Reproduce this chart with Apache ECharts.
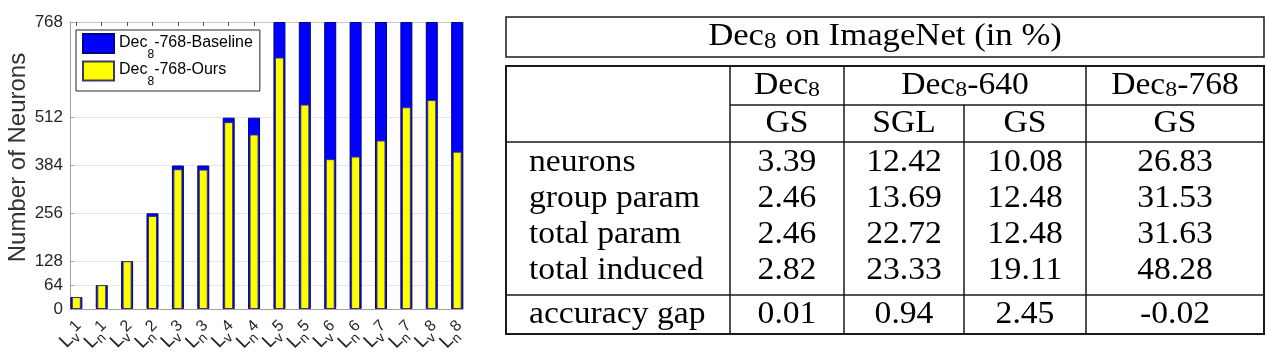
<!DOCTYPE html>
<html>
<head>
<meta charset="utf-8">
<script src="https://cdn.jsdelivr.net/npm/echarts@6/dist/echarts.min.js"></script>
<style>
  html, body { margin: 0; padding: 0; background: #fff; }
  #main { width: 1266px; height: 360px; }
</style>
</head>
<body>
<div id="main"></div>
<script>
// bar chart data: layer L_kind^id
const layerIds = ['1', '1', '2', '2', '3', '3', '4', '4', '5', '5', '6', '6', '7', '7', '8', '8'];
const layerKinds = ['v', 'n', 'v', 'n', 'v', 'n', 'v', 'n', 'v', 'n', 'v', 'n', 'v', 'n', 'v', 'n'];
const baseline = [32, 64, 128, 256, 384, 384, 512, 512, 768, 768, 768, 768, 768, 768, 768, 768];
const ours = [32, 64, 128, 249, 374, 373, 500, 467, 673, 547, 401, 408, 451, 540, 559, 421];
const yTicks = [0, 64, 128, 256, 384, 512, 768];

// table data
const tableTitle = '{t|Dec}{s|8}{t| on ImageNet (in %)}';
const groupHeaders = ['{t|Dec}{s|8}', '{t|Dec}{s|8}{t|-640}', '{t|Dec}{s|8}{t|-768}'];
const methodHeaders = ['GS', 'SGL', 'GS', 'GS'];
const rowLabels = ['neurons', 'group param', 'total param', 'total induced', 'accuracy gap'];
const dec8GS = [3.39, 2.46, 2.46, 2.82, 0.01];
const dec640SGL = [12.42, 13.69, 22.72, 23.33, 0.94];
const dec640GS = [10.08, 12.48, 12.48, 19.11, 2.45];
const dec768GS = [26.83, 31.53, 31.63, 48.28, -0.02];

const positions = layerIds.map((d, i) => i + 1);
const sans = 'Liberation Sans';
const serif = 'Liberation Serif';
const xMin = 0.75, xMax = 16.23;
const labelShift = 0.2; // labels sit a little right of the bar centre

// ---- table layout ----
const colX = [506, 730, 844, 964, 1086, 1264];
const tTop = 66, tBottom = 334;
const lineColor = '#1a1a1a';

function serifRich(size) {
  return {
    t: { fontFamily: serif, fontSize: size, fill: '#000' },
    s: { fontFamily: serif, fontSize: Math.round(size * 0.72), fill: '#000', padding: [9, 0, 0, 0] }
  };
}
function line(x1, y1, x2, y2, w) {
  return {
    type: 'line',
    shape: { x1: x1, y1: y1, x2: x2, y2: y2 },
    style: { stroke: lineColor, lineWidth: w || 1.5 }
  };
}
function cell(x, y, text, opt) {
  opt = opt || {};
  const size = opt.size || 31;
  return {
    type: 'text',
    x: x,
    y: y,
    scaleX: 1.085,
    style: {
      text: text,
      x: 0,
      y: 0,
      rich: serifRich(size),
      fontFamily: serif,
      fontSize: size,
      fill: '#000',
      align: opt.align || 'center',
      verticalAlign: 'middle',
      textAlign: opt.align || 'center',
      textVerticalAlign: 'middle'
    }
  };
}

const graphics = [];
// title box
graphics.push({ type: 'rect', shape: { x: 506, y: 17, width: 758, height: 40 },
  style: { fill: 'none', stroke: lineColor, lineWidth: 1.5 } });
graphics.push(cell(885, 37, tableTitle, { size: 32 }));
// table frame
graphics.push({ type: 'rect', shape: { x: 506, y: tTop, width: 758, height: tBottom - tTop },
  style: { fill: 'none', stroke: lineColor, lineWidth: 2 } });
graphics.push(line(colX[1], 105, colX[5], 105));
graphics.push(line(colX[0], 142, colX[5], 142));
graphics.push(line(colX[0], 295, colX[5], 295));
graphics.push(line(colX[1], tTop, colX[1], tBottom));
graphics.push(line(colX[2], tTop, colX[2], tBottom));
graphics.push(line(colX[3], 105, colX[3], tBottom));
graphics.push(line(colX[4], tTop, colX[4], tBottom));
// headers
graphics.push(cell((colX[1] + colX[2]) / 2, 86, groupHeaders[0]));
graphics.push(cell((colX[2] + colX[4]) / 2, 86, groupHeaders[1]));
graphics.push(cell((colX[4] + colX[5]) / 2, 86, groupHeaders[2]));
methodHeaders.forEach((h, j) => {
  graphics.push(cell((colX[j + 1] + colX[j + 2]) / 2, 124, h));
});
// body rows
const rowY = [162.5, 198.5, 234.5, 270.5, 315];
const cols = [dec8GS, dec640SGL, dec640GS, dec768GS];
rowLabels.forEach((lab, r) => {
  graphics.push(cell(529, rowY[r], lab, { align: 'left' }));
  cols.forEach((col, j) => {
    graphics.push(cell((colX[j + 1] + colX[j + 2]) / 2, rowY[r], col[r].toFixed(2)));
  });
});

const myChart = echarts.init(document.getElementById('main'));
const option = {
  animation: false,
  backgroundColor: '#fff',
  grid: { left: 70, top: 22, width: 393, height: 287 },
  legend: {
    orient: 'vertical',
    left: 76,
    top: 30,
    backgroundColor: '#fff',
    borderColor: '#262626',
    borderWidth: 1,
    padding: [3, 7, 3, 6],
    itemGap: 0,
    itemWidth: 31,
    itemHeight: 19,
    icon: 'rect',
    selectedMode: false,
    formatter: function (name) {
      return '{t|Dec}{s|8}{t|' + name.replace('Dec8', '') + '}';
    },
    textStyle: {
      rich: {
        t: { fontFamily: sans, fontSize: 16, color: '#000', lineHeight: 18, verticalAlign: 'top' },
        s: { fontFamily: sans, fontSize: 12, color: '#000', lineHeight: 12, padding: [14, 0, 0, 0], verticalAlign: 'top' }
      }
    }
  },
  xAxis: [
    {
      type: 'value',
      min: xMin,
      max: xMax,
      position: 'bottom',
      axisLine: { show: true, onZero: false, lineStyle: { color: '#a0a0a0' } },
      axisTick: { show: false },
      axisLabel: { show: false },
      splitLine: { show: false }
    },
    {
      type: 'value',
      min: xMin,
      max: xMax,
      position: 'top',
      axisLine: { show: true, onZero: false, lineStyle: { color: '#c8c8c8' } },
      axisTick: { show: true, inside: true, length: 4, customValues: positions, lineStyle: { color: '#555' } },
      axisLabel: { show: false },
      splitLine: { show: false }
    },
    {
      // label-only axis, shifted slightly so the rotated labels sit like the original
      type: 'value',
      min: xMin - labelShift,
      max: xMax - labelShift,
      position: 'bottom',
      axisLine: { show: false },
      axisTick: { show: false },
      splitLine: { show: false },
      axisLabel: {
        customValues: [xMin - labelShift].concat(positions, [xMax - labelShift]),
        rotate: 45,
        margin: 17,
        color: '#262626',
        fontFamily: sans,
        formatter: function (v) {
          if (!Number.isInteger(v)) return '';
          const i = v - 1;
          return '{l|L}{b|' + layerKinds[i] + '}{p|' + layerIds[i] + '}';
        },
        rich: {
          l: { fontFamily: sans, fontSize: 19, color: '#262626', lineHeight: 24 },
          b: { fontFamily: sans, fontSize: 14, color: '#262626', lineHeight: 10, verticalAlign: 'bottom' },
          p: { fontFamily: sans, fontSize: 16, color: '#262626', lineHeight: 18, verticalAlign: 'top' }
        }
      }
    }
  ],
  yAxis: [
    {
      type: 'value',
      min: 0,
      max: 768,
      name: 'Number of Neurons',
      nameLocation: 'middle',
      nameGap: 40,
      nameTextStyle: { fontFamily: sans, fontSize: 24, color: '#333', padding: [0, 0, 0, 16] },
      axisLine: { show: true, lineStyle: { color: '#a0a0a0' } },
      axisTick: { show: true, inside: true, length: 4, customValues: yTicks, lineStyle: { color: '#a0a0a0' } },
      axisLabel: { customValues: yTicks, fontFamily: sans, fontSize: 17, color: '#262626', margin: 7 },
      splitLine: { show: true, lineStyle: { color: '#e4e4e4' } }
    },
    {
      type: 'value',
      min: 0,
      max: 768,
      position: 'right',
      axisLine: { show: true, lineStyle: { color: '#c8c8c8' } },
      axisTick: { show: false },
      axisLabel: { show: false },
      splitLine: { show: false }
    }
  ],
  series: [
    {
      name: 'Dec8-768-Baseline',
      type: 'bar',
      xAxisIndex: 0,
      yAxisIndex: 0,
      barWidth: 12,
      data: baseline.map((v, i) => [positions[i], v]),
      itemStyle: { color: '#0000ff', borderColor: '#00008b', borderWidth: 1 }
    },
    {
      name: 'Dec8-768-Ours',
      type: 'bar',
      xAxisIndex: 1,
      yAxisIndex: 0,
      barWidth: 9,
      data: ours.map((v, i) => [positions[i], v]),
      itemStyle: { color: '#ffff00', borderColor: '#3a3a60', borderWidth: 1 }
    }
  ],
  graphic: graphics
};
myChart.setOption(option);
</script>
</body>
</html>
